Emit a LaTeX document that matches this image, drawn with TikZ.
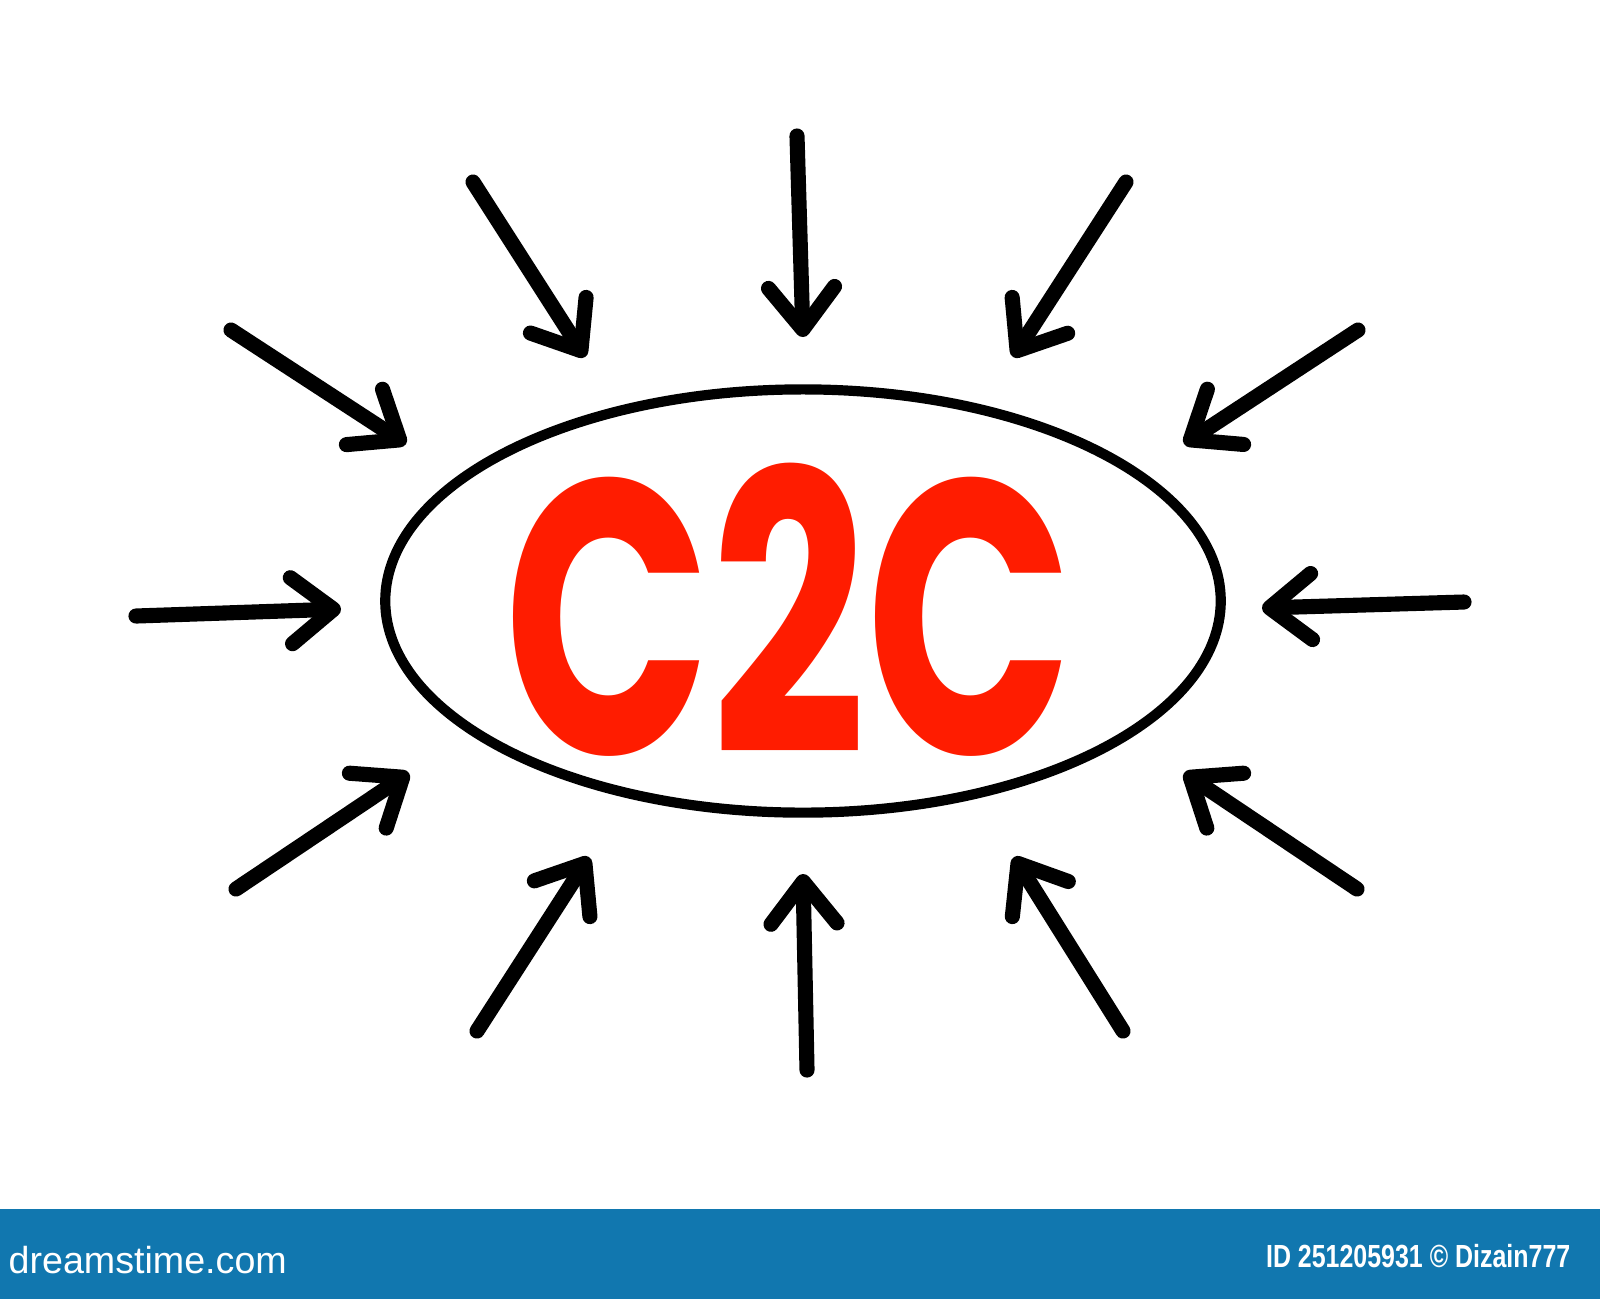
\documentclass[tikz,border=0pt]{standalone}
\usepackage{fontspec}
\setmainfont{Liberation Sans}
\newfontfamily\lettere{Poppins}
\usetikzlibrary{arrows.meta,shapes.geometric}

\definecolor{rossoC}{RGB}{255,28,0}
\definecolor{bluBarra}{RGB}{17,119,175}

\begin{document}
\begin{tikzpicture}[x=0.01cm, y=-0.01cm]
    % Definizione stili
    \tikzset{ovale/.style={draw, ellipse, line width=2.9pt, minimum width=8.35cm, minimum height=4.23cm, inner sep=0pt}}
    \tikzstyle{freccia}=[-{Straight Barb[length=0.42cm, width=0.66cm, line cap=round, line join=round]}, line width=4.3pt, line cap=round, black]
    \tikzstyle{scritta}=[text=white, inner sep=0pt]

    \useasboundingbox (0,0) rectangle (1600,1299);

    % Ovale centrale con la sigla
    \node[ovale] (ovale) at (803,601) {};
    \node[inner sep=0pt, text=rossoC] (sigla) at (789,610) {\resizebox{5.68cm}{2.91cm}{\lettere\bfseries C2C}};

    % Estremi delle frecce
    \coordinate (coda1) at (797,136);   \coordinate (punta1) at (803,337);
    \coordinate (coda2) at (473,182);   \coordinate (punta2) at (585,357);
    \coordinate (coda3) at (1126,182);  \coordinate (punta3) at (1013,357);
    \coordinate (coda4) at (231,330);   \coordinate (punta4) at (406,444);
    \coordinate (coda5) at (1358,330);  \coordinate (punta5) at (1184,444);
    \coordinate (coda6) at (136,616);   \coordinate (punta6) at (341,609);
    \coordinate (coda7) at (1464,602);  \coordinate (punta7) at (1262,608);
    \coordinate (coda8) at (236,889);   \coordinate (punta8) at (409,773);
    \coordinate (coda9) at (1357,889);  \coordinate (punta9) at (1184,773);
    \coordinate (coda10) at (477,1031); \coordinate (punta10) at (589,857);
    \coordinate (coda11) at (807,1070); \coordinate (punta11) at (803,874);
    \coordinate (coda12) at (1123,1031);\coordinate (punta12) at (1014,857);

    % Frecce verso l'ovale
    \draw[freccia] (coda1) -- (punta1);
    \draw[freccia] (coda2) -- (punta2);
    \draw[freccia] (coda3) -- (punta3);
    \draw[freccia] (coda4) -- (punta4);
    \draw[freccia] (coda5) -- (punta5);
    \draw[freccia] (coda6) -- (punta6);
    \draw[freccia] (coda7) -- (punta7);
    \draw[freccia] (coda8) -- (punta8);
    \draw[freccia] (coda9) -- (punta9);
    \draw[freccia] (coda10) -- (punta10);
    \draw[freccia] (coda11) -- (punta11);
    \draw[freccia] (coda12) -- (punta12);

    % Barra in basso
    \fill[bluBarra] (0,1209) rectangle (1600,1299);
    \node[scritta, anchor=west, font=\fontsize{10.7}{13}\selectfont] (sito) at (8,1260) {dreamstime.com};
    \node[scritta, anchor=east, font=\fontsize{9.1}{11}\selectfont\bfseries] (codice) at (1571,1256) {\scalebox{0.78}[1]{ID 251205931 © Dizain777}};
\end{tikzpicture}
\end{document}
